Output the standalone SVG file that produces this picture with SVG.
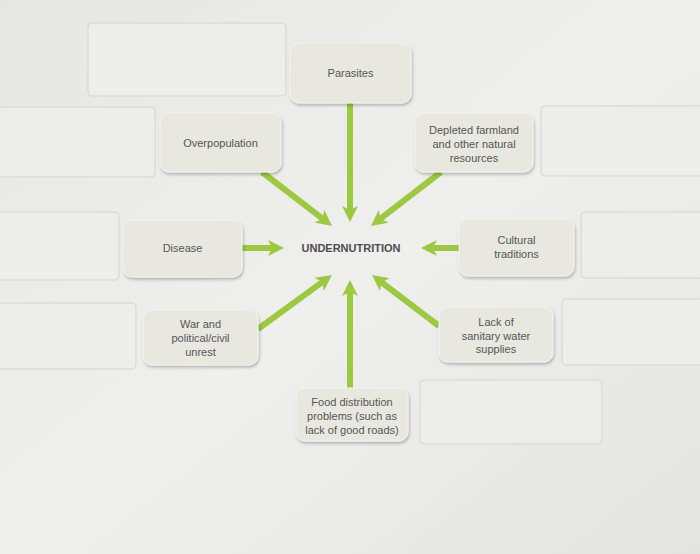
<svg xmlns="http://www.w3.org/2000/svg" width="700" height="554" viewBox="0 0 700 554">
<defs>
<linearGradient id="bg" x1="0" y1="0" x2="1" y2="1">
<stop offset="0" stop-color="#e6e6e4"/>
<stop offset="0.5" stop-color="#efefed"/>
<stop offset="1" stop-color="#e4e4e2"/>
</linearGradient>
<filter id="sh" x="-10%" y="-10%" width="130%" height="140%">
<feDropShadow dx="1" dy="2" stdDeviation="1.5" flood-color="#000" flood-opacity="0.25"/>
</filter>
<marker id="ah" viewBox="0 0 16 16" refX="6" refY="8" markerWidth="16" markerHeight="16" markerUnits="userSpaceOnUse" orient="auto">
<path d="M0,0 L16,8 L0,16 L4,8 z" fill="#9dc841"/>
</marker>
</defs>
<style>
.empty{fill:#ededeb;stroke:#d3d3d1;stroke-width:1}
.node{fill:#e8e8e1;stroke:#f4f4ef;stroke-width:1;filter:url(#sh)}
.t{font-family:"Liberation Sans",Arial,sans-serif;font-size:11px;fill:#555;text-anchor:middle}
.c{font-family:"Liberation Sans",Arial,sans-serif;font-size:11px;font-weight:bold;fill:#4d4d4d;text-anchor:middle}
.arr{stroke:#9dc841;stroke-width:6;fill:none;marker-end:url(#ah)}
</style>
<rect width="700" height="554" fill="url(#bg)"/>

<g id="empty-boxes">
<rect class="empty" x="88" y="23" width="198" height="73" rx="4"/>
<rect class="empty" x="-5" y="107" width="160" height="70" rx="4"/>
<rect class="empty" x="-5" y="212" width="124" height="68" rx="4"/>
<rect class="empty" x="-5" y="303" width="141" height="66" rx="4"/>
<rect class="empty" x="541" y="106" width="165" height="70" rx="4"/>
<rect class="empty" x="581" y="212" width="125" height="66" rx="4"/>
<rect class="empty" x="562" y="299" width="144" height="66" rx="4"/>
<rect class="empty" x="420" y="380" width="182" height="64" rx="4"/>
</g>

<g id="connectors">
<line class="arr" x1="350" y1="103" x2="350" y2="212"/>
<line class="arr" x1="262" y1="172" x2="324.1" y2="219.9"/>
<line class="arr" x1="441" y1="172" x2="378.9" y2="219.9"/>
<line class="arr" x1="242" y1="248" x2="274" y2="248"/>
<line class="arr" x1="459" y1="248" x2="431" y2="248"/>
<line class="arr" x1="258" y1="329" x2="323.9" y2="280.9"/>
<line class="arr" x1="439" y1="326" x2="380" y2="281.1"/>
<line class="arr" x1="350" y1="388" x2="350" y2="290"/>
</g>

<g id="n-parasites">
<rect class="node" x="290" y="43" width="121" height="60" rx="9"/>
<text class="t" x="350.5" y="77">Parasites</text>
</g>
<g id="n-overpopulation">
<rect class="node" x="160" y="113" width="121" height="59" rx="9"/>
<text class="t" x="220.5" y="147">Overpopulation</text>
</g>
<g id="n-depleted">
<rect class="node" x="415" y="113" width="118" height="59" rx="9"/>
<text class="t" x="474" y="134">Depleted farmland</text>
<text class="t" x="474" y="148">and other natural</text>
<text class="t" x="474" y="162">resources</text>
</g>
<g id="n-disease">
<rect class="node" x="123" y="220" width="119" height="57" rx="9"/>
<text class="t" x="182.5" y="252">Disease</text>
</g>
<g id="n-undernutrition">
<text class="c" x="351" y="252">UNDERNUTRITION</text>
</g>
<g id="n-cultural">
<rect class="node" x="459" y="219" width="115" height="57" rx="9"/>
<text class="t" x="516.5" y="244">Cultural</text>
<text class="t" x="516.5" y="258">traditions</text>
</g>
<g id="n-war">
<rect class="node" x="143" y="310" width="115" height="55" rx="9"/>
<text class="t" x="200.5" y="328">War and</text>
<text class="t" x="200.5" y="342">political/civil</text>
<text class="t" x="200.5" y="356">unrest</text>
</g>
<g id="n-water">
<rect class="node" x="439" y="307" width="114" height="55" rx="9"/>
<text class="t" x="496" y="326">Lack of</text>
<text class="t" x="496" y="340">sanitary water</text>
<text class="t" x="496" y="353">supplies</text>
</g>
<g id="n-food">
<rect class="node" x="296" y="388" width="112" height="53" rx="9"/>
<text class="t" x="352" y="406">Food distribution</text>
<text class="t" x="352" y="420">problems (such as</text>
<text class="t" x="352" y="434">lack of good roads)</text>
</g>
</svg>
